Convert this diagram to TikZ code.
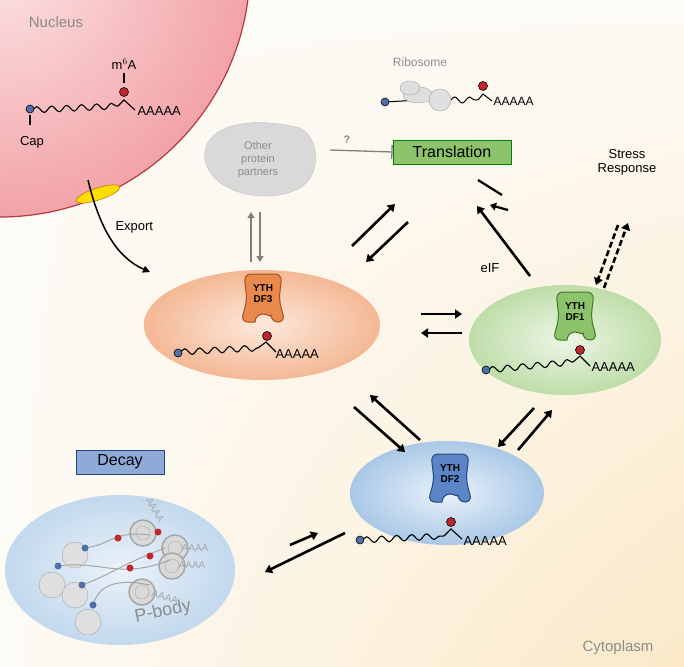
\documentclass[tikz,border=0pt]{standalone}
\usepackage{fontspec}
\setmainfont{Liberation Sans}
\usetikzlibrary{arrows.meta,decorations.pathmorphing,shapes.geometric,shadings}
\definecolor{bgA}{HTML}{FDFBF6}
\definecolor{bgB}{HTML}{FBE9C8}
\definecolor{nucA}{HTML}{F2A3A8}
\definecolor{nucB}{HTML}{FCE3E3}
\definecolor{nucE}{HTML}{B53A3E}
\definecolor{orA}{HTML}{F4B894}
\definecolor{orB}{HTML}{FCE9DC}
\definecolor{orP}{HTML}{E98A4C}
\definecolor{orD}{HTML}{A2501E}
\definecolor{grA}{HTML}{BEDDA8}
\definecolor{grB}{HTML}{EDF6E6}
\definecolor{grP}{HTML}{8DC46B}
\definecolor{grD}{HTML}{3F7A27}
\definecolor{blA}{HTML}{A9C8E6}
\definecolor{blB}{HTML}{EAF2FA}
\definecolor{blP}{HTML}{5C85C7}
\definecolor{blD}{HTML}{27457E}
\definecolor{capC}{HTML}{4F6FA8}
\definecolor{mC}{HTML}{C0262C}
\definecolor{gT}{HTML}{8C8C8C}
\tikzset{
  x=1pt,y=-1pt,
  lbl/.style={font=\fontsize{13}{14}\selectfont},
  rna/.style={line width=1.1pt,decorate,decoration={snake,segment length=15,amplitude=3}},
  capdot/.style={circle,fill=capC,draw=black,line width=0.6pt,inner sep=0pt,minimum size=8pt},
  mdot/.style={circle,fill=mC,draw=black,line width=0.6pt,inner sep=0pt,minimum size=9pt},
  eq/.style={line width=2.6pt,-{Triangle[length=7pt,width=9pt]}},
  box/.style={draw=#1,line width=0.8pt,minimum height=24pt,font=\fontsize{16}{18}\selectfont},
}
\newcommand\myprot[4]{%
 \begin{scope}[shift={#1}]
 \filldraw[fill=#2,draw=#3,line width=1pt,rounded corners=7]
  (-19,-26) -- (19,-26) -- (16,0) -- (22,22) -- (8,22) [sharp corners] arc[start angle=0,end angle=-180,radius=8] [rounded corners=7] -- (-22,22) -- (-16,0) -- cycle;
 \node[font=\bfseries\fontsize{10}{11}\selectfont,align=center,text=black] at (0,-6) {YTH\\#4};
 \end{scope}}
\begin{document}
\begin{tikzpicture}
\useasboundingbox (0,0) rectangle (684,666);
\shade[upper left=bgA,upper right=bgA,lower left=bgA,lower right=bgB] (0,0) rectangle (684,666);
% nucleus
\begin{scope}
\clip (0,0) rectangle (684,666);
\shade[inner color=nucB,outer color=nucA] (0,-33) circle (250);
\draw[nucE,line width=1.2pt] (0,-33) circle (250);
\end{scope}
\node[text=gT,font=\fontsize{15}{16}\selectfont] (nuc) at (56,22) {Nucleus};
\draw[rna] (32,110) -- (118,106);
\draw[line width=1.1pt] (118,106) -- (124,100) -- (135,110);
\node[capdot] (cap1) at (30,109) {};
\node[mdot] (m1) at (124,92) {};
\node[lbl,anchor=west] (a1) at (134,111) {AAAAA};
\node[lbl] (m6a) at (124,64) {m$^6$A};
\draw[line width=1.1pt] (124,73) -- (124,83);
\draw[line width=1.1pt] (30,115) -- (30,125);
\node[lbl] (caplbl) at (32,142) {Cap};
% pore and export
\node[draw=orange!70!black,fill=yellow!80!orange,ellipse,minimum width=46pt,minimum height=12pt,inner sep=0pt,rotate=18] (pore) at (98,194) {};
\coordinate (ex0) at (88,180);
\coordinate (ex1) at (150,272);
\draw[line width=1.5pt,-{Triangle[length=7pt,width=7pt]}] (ex0) .. controls (100,230) and (118,258) .. (ex1);
\node[lbl,anchor=west] (exp) at (112,227) {Export};
% ribosome
\draw[line width=1pt] (385,102) -- (420,100);
\draw[rna,line width=1pt] (420,100) -- (478,100);
\draw[line width=1pt] (478,100) -- (483,94) -- (492,101);
\filldraw[fill=gray!25,draw=gray!70] (418,95) ellipse (15 and 8);
\filldraw[fill=gray!25,draw=gray!70] (440,100) ellipse (11 and 11);
\filldraw[fill=gray!25,draw=gray!70] (410,88) ellipse (10 and 7);
\node[capdot] (cap2) at (385,102) {};
\node[mdot] (m2) at (483,86) {};
\node[font=\fontsize{12}{13}\selectfont,anchor=west] (a2) at (490,101) {AAAAA};
\node[text=gT,font=\fontsize{12}{13}\selectfont] (rib) at (420,62) {Ribosome};
% other partners
\filldraw[fill=gray!30,draw=gray!45] (205,160) .. controls (200,125) and (250,115) .. (300,128) .. controls (320,138) and (322,175) .. (300,188) .. controls (270,205) and (212,195) .. (205,160);
\node[text=gT,font=\fontsize{11}{13}\selectfont,align=center] (opp) at (258,160) {Other\\protein\\partners};
% ? inhibition
\node[box=green!50!black,fill=grP,minimum width=118pt] (trans) at (452,152) {Translation};
\coordinate (q0) at (330,150);
\draw[gray,line width=1.3pt,-{Bar[width=14pt]}] (q0) -- (trans.west);
\node[text=gT,font=\bfseries\fontsize{11}{12}\selectfont] (q) at (347,140) {?};
\node[lbl,align=center] (stress) at (627,162) {Stress\\Response};
% grey double arrows
\draw[gray,line width=1.6pt,-{Triangle[length=6pt,width=7pt]}] (251,262) -- (251,212);
\draw[gray,line width=1.6pt,-{Triangle[length=6pt,width=7pt]}] (260,212) -- (260,262);
% DF3 ellipse
\shade[inner color=orB,outer color=orA] (262,325) ellipse (118 and 55);
\myprot{(263,300)}{orP}{orD}{DF3}
\draw[rna] (180,352) -- (258,348);
\draw[line width=1.1pt] (258,348) -- (266,342) -- (276,352);
\node[capdot] (cap3) at (178,353) {};
\node[mdot] (m3) at (267,336) {};
\node[lbl,anchor=west] (a3) at (272,354) {AAAAA};
% DF1 ellipse
\shade[inner color=grB,outer color=grA] (565,340) ellipse (96 and 55);
\myprot{(575,318)}{grP}{grD}{DF1}
\draw[rna] (488,370) -- (573,362);
\draw[line width=1.1pt] (573,362) -- (580,356) -- (590,366);
\node[capdot] (cap4) at (486,370) {};
\node[mdot] (m4) at (580,350) {};
\node[lbl,anchor=west] (a4) at (588,367) {AAAAA};
% DF2 ellipse
\shade[inner color=blB,outer color=blA] (447,493) ellipse (97 and 52);
\myprot{(450,480)}{blP}{blD}{DF2}
\draw[rna] (362,540) -- (444,536);
\draw[line width=1.1pt] (444,536) -- (451,529) -- (462,539);
\node[capdot] (cap5) at (360,540) {};
\node[mdot] (m5) at (451,522) {};
\node[lbl,anchor=west] (a5) at (460,541) {AAAAA};
% decay
\node[box=blD,fill=blP!70,minimum width=88pt] (decay) at (120,462) {Decay};
\shade[inner color=blB,outer color=blA!70] (120,570) ellipse (115 and 75);
\begin{scope}[gray!70]
 \foreach \p in {(75,555),(52,585),(75,595),(88,622)} {\fill[gray!25] \p circle (13); \draw \p circle (13);}
 \foreach \p in {(143,533),(175,548),(172,566),(142,592)} {\fill[gray!30] \p circle (13); \draw[line width=1.5pt] \p circle (13); \draw \p circle (7);}
 \draw[line width=1pt] (85,548) .. controls (110,545) and (115,530) .. (150,535);
 \draw[line width=1pt] (58,566) .. controls (100,560) and (120,580) .. (170,560);
 \draw[line width=1pt] (82,585) .. controls (110,575) and (120,565) .. (165,548);
 \draw[line width=1pt] (93,605) .. controls (100,580) and (125,580) .. (150,585);
 \node[font=\fontsize{10}{11}\selectfont,rotate=-60] (pa1) at (155,510) {AAAA};
 \node[font=\fontsize{10}{11}\selectfont] (pa2) at (195,548) {AAAA};
 \node[font=\fontsize{10}{11}\selectfont] (pa3) at (192,565) {AAAA};
 \node[font=\fontsize{10}{11}\selectfont,rotate=-15] (pa4) at (165,597) {AAAA};
\end{scope}
\foreach \p in {(85,548),(58,566),(82,585),(93,605)} \fill[capC] \p circle (3.5);
\foreach \p in {(118,538),(158,532),(150,556),(130,568)} \fill[mC] \p circle (3.5);
\node[text=gT,font=\fontsize{18}{20}\selectfont,rotate=12] (pb) at (163,612) {P-body};
\node[text=gT,font=\fontsize{15}{16}\selectfont] (cyto) at (618,648) {Cytoplasm};
% equilibrium arrows
\draw[eq] (421,314) -- (462,314);
\draw[eq] (462,333) -- (421,333);
\draw[eq] (352,246) -- (395,204);
\draw[eq] (408,222) -- (366,262);
\draw[eq] (354,407) -- (405,452);
\draw[eq] (420,440) -- (370,395);
\draw[eq] (534,408) -- (498,447);
\draw[eq] (518,450) -- (552,410);
\draw[eq] (345,533) -- (265,572);
\draw[eq] (290,545) -- (318,533);
% eIF / translation
\draw[eq] (530,276) -- (477,206);
\draw[line width=2.2pt] (478,180) -- (502,195);
\draw[line width=2.2pt,-{Triangle[length=6pt,width=8pt]}] (508,210) -- (490,205);
\node[lbl] (eif) at (490,268) {eIF};
% stress dashed
\draw[eq,dash pattern=on 6pt off 3pt] (604,288) -- (628,223);
\draw[eq,dash pattern=on 6pt off 3pt] (618,225) -- (596,285);
\end{tikzpicture}
\end{document}
